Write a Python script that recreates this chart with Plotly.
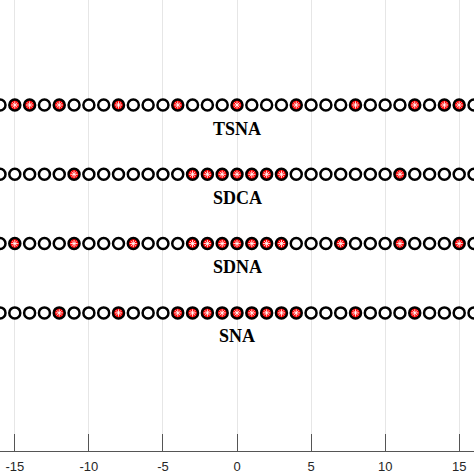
import plotly.graph_objects as go

# ----------------------------------------- Data ----------------------------------------- #

# element positions (in half-wavelength units), same grid for every array
positions = list(range(-16, 17))

array_names = ["TSNA", "SDCA", "SDNA", "SNA"]
array_rows = [4, 3, 2, 1]

# active (selected) sensor positions per array
active_tsna = [-15, -14, -12, -8, -4, 0, 4, 8, 12, 14, 15]
active_sdca = [-11, -3, -2, -1, 0, 1, 2, 3, 11]
active_sdna = [-15, -11, -7, -3, -2, -1, 0, 1, 2, 3, 7, 11, 15]
active_sna = [-12, -8, -4, -3, -2, -1, 0, 1, 2, 3, 4, 8, 12]

active_sets = [active_tsna, active_sdca, active_sdna, active_sna]

x_ticks = [-15, -10, -5, 0, 5, 10, 15]
x_tick_labels = ["-15", "-10", "-5", "0", "5", "10", "15"]

# ----------------------------------------------------------------------------------------

fig = go.Figure()

for name, row, active in zip(array_names, array_rows, active_sets):
    idle = [p for p in positions if p not in active]

    # empty slots
    fig.add_trace(go.Scatter(
        x=idle, y=[row] * len(idle),
        mode='markers',
        marker=dict(symbol='circle', size=11, color='white',
                    line=dict(color='black', width=2.5)),
        hoverinfo='skip', showlegend=False))

    # active sensors
    fig.add_trace(go.Scatter(
        x=active, y=[row] * len(active),
        mode='markers',
        marker=dict(symbol='circle', size=11, color='#ff0000',
                    line=dict(color='black', width=2.5)),
        hoverinfo='skip', showlegend=False))

    # white dotted ring inside the red ones
    fig.add_trace(go.Scatter(
        x=active, y=[row] * len(active),
        mode='markers',
        marker=dict(symbol='asterisk-open', size=6, color='rgba(255,255,255,0.85)',
                    line=dict(width=1)),
        hoverinfo='skip', showlegend=False))

    fig.add_annotation(
        x=0, y=row - 0.34, text="<b>%s</b>" % name,
        showarrow=False,
        font=dict(family="Liberation Serif", size=18, color='black'))

fig.update_layout(
    width=474, height=474,
    margin=dict(l=0, r=0, t=0, b=23),
    plot_bgcolor='white',
    paper_bgcolor='white',
    xaxis=dict(
        range=[-16, 16],
        tickvals=x_ticks,
        ticktext=x_tick_labels,
        ticks='inside', ticklen=17, tickcolor='#555555', tickwidth=1,
        ticklabelstandoff=3,
        showline=True, linecolor='#555555', linewidth=1,
        showgrid=True, gridcolor='#e6e6e6', gridwidth=1,
        zeroline=False,
        tickfont=dict(family="Liberation Sans", size=13, color='#262626'),
    ),
    yaxis=dict(
        range=[-0.993, 5.515],
        visible=False,
    ),
)

# page body margin would shift the plot, drop it
fig.write_html("out.html", config={'displayModeBar': False},
               post_script="document.body.style.margin='0';")
